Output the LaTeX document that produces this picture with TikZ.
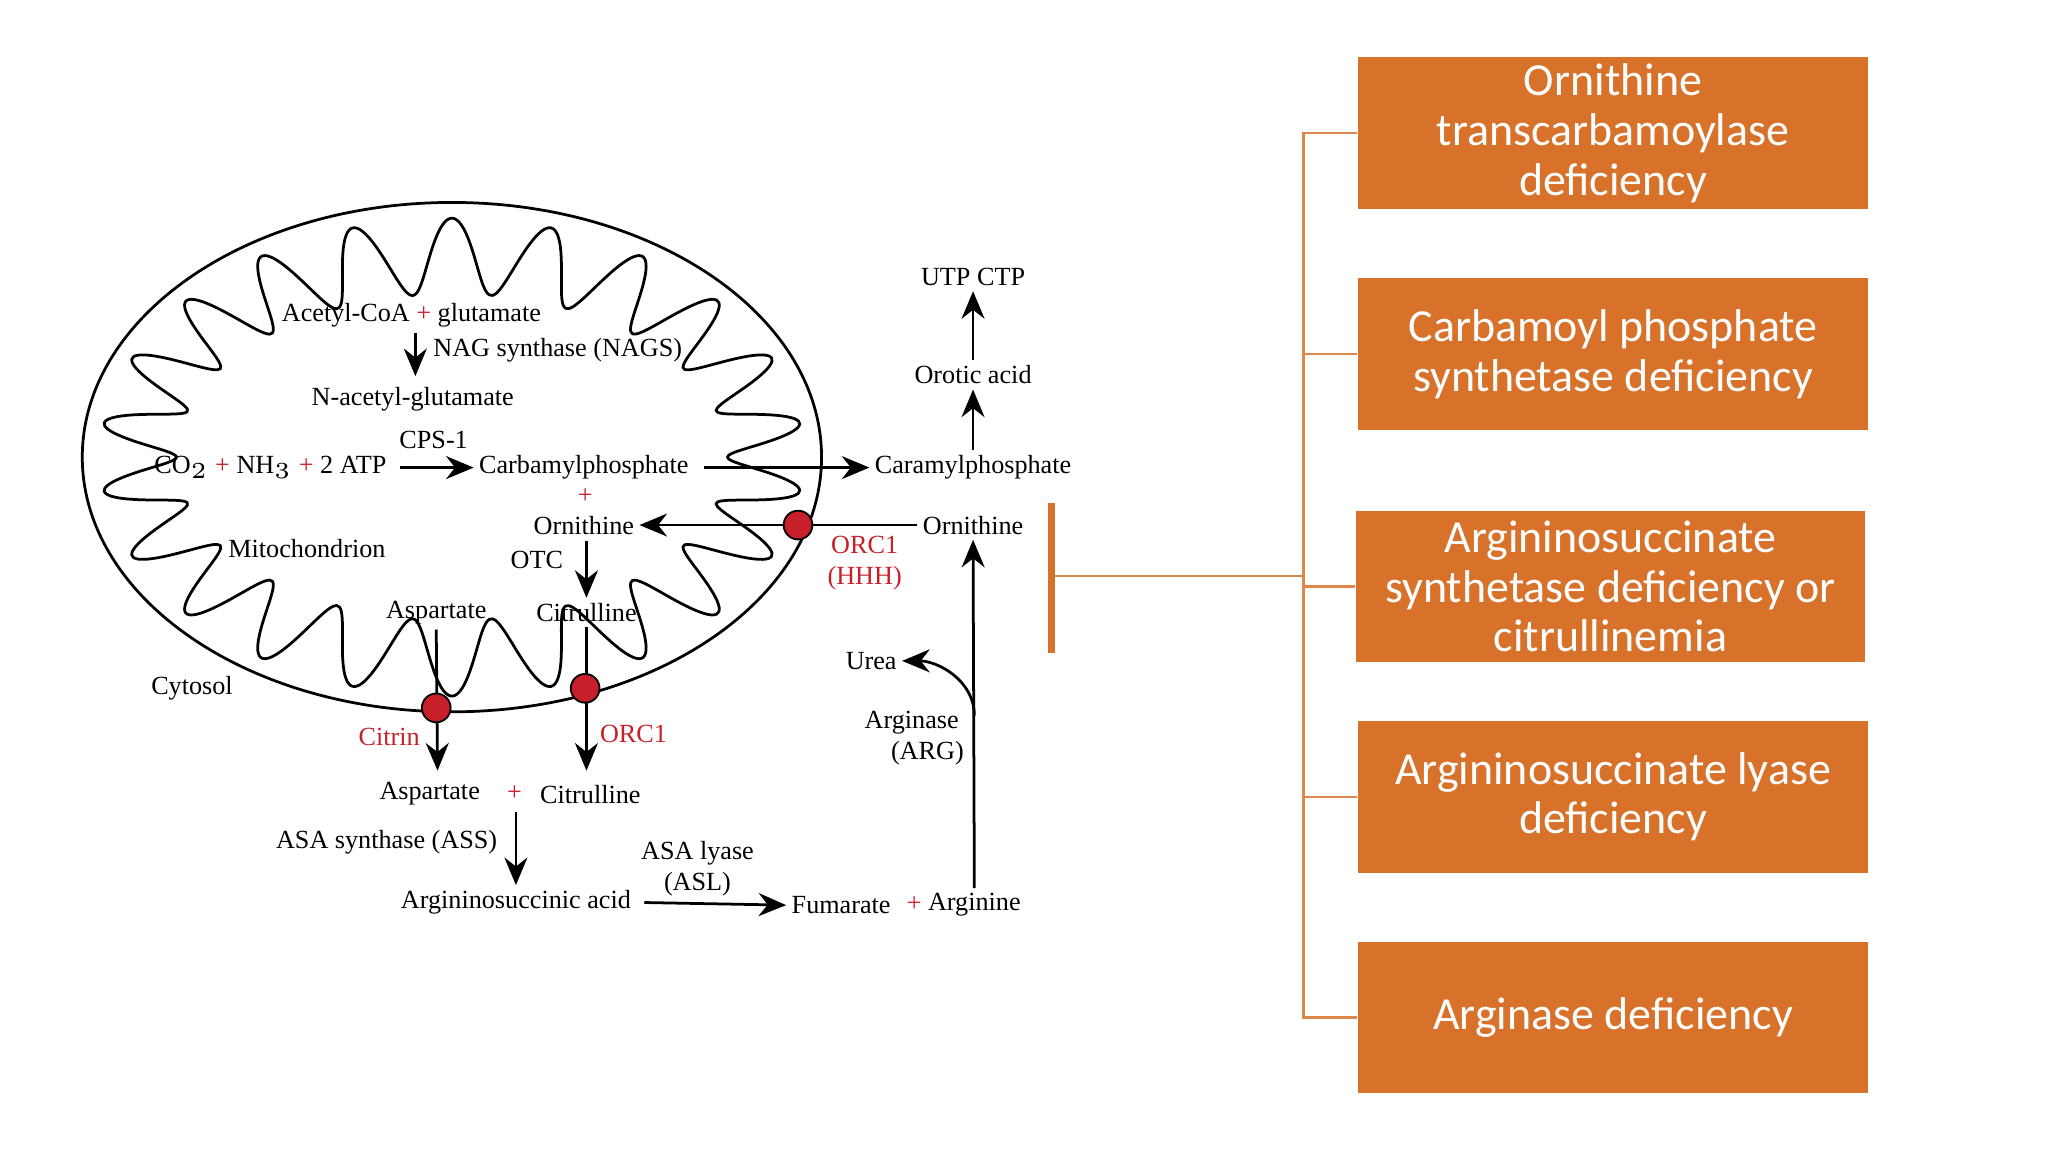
\documentclass[tikz,border=0pt]{standalone}
\usepackage{fontspec}
\setmainfont{Liberation Serif}
\newfontfamily\boxfont{Carlito}
\usetikzlibrary{arrows.meta}
\definecolor{boxorange}{HTML}{D8722B}
\definecolor{rd}{HTML}{C8202A}
\begin{document}
\begin{tikzpicture}[x=0.01cm,y=-0.01cm,
    lbl/.style={font=\fontsize{5.7}{6.8}\selectfont, inner sep=1pt, align=center},
    rlbl/.style={lbl, text=rd},
    flow/.style={-{Stealth[length=6pt,width=5pt]}, semithick},
    port/.style={circle, fill=rd, draw=black, thin, minimum size=0.22cm, inner sep=0pt},
    dbox/.style={fill=boxorange, text=white, minimum width=3.9cm, minimum height=1.16cm,
      font=\boxfont\fontsize{10}{10.8}\selectfont, align=center, inner sep=0pt},
    link/.style={boxorange!85, line width=0.5pt}
  ]
  \useasboundingbox (0,0) rectangle (1568,882);
  % mitochondrion
  \draw[semithick] (346,350) ellipse [x radius=283, y radius=195];
  \draw[semithick, smooth, samples=500, domain=0:360, variable=\t]
    plot ({346+(283-14-58*(0.5+0.5*cos(22*\t)))*cos(\t)},
          {350+(195-12-58*(0.5+0.5*cos(22*\t)))*sin(\t)}) -- cycle;
  % labels in the matrix
  \node[lbl] (acg) at (315,241) {Acetyl-CoA {\color{rd}+} glutamate};
  \node[lbl] (nagl) at (427,268) {NAG synthase (NAGS)};
  \node[lbl] (nag) at (316,306) {N-acetyl-glutamate};
  \node[lbl] (cps) at (332,337) {CPS-1};
  \node[lbl] (co2) at (207,358) {CO$_2$ {\color{rd}+} NH$_3$ {\color{rd}+} 2 ATP};
  \node[lbl] (cp) at (447,358) {Carbamylphosphate};
  \node[rlbl] (pl1) at (448,380) {+};
  \node[lbl] (orn) at (447,402) {Ornithine};
  \node[lbl] (otc) at (411,429) {OTC};
  \node[lbl] (mito) at (235,420) {Mitochondrion};
  \node[lbl] (asp) at (334,469) {Aspartate};
  \node[lbl] (cit) at (449,469) {Citrulline};
  \node[lbl] (cyto) at (147,527) {Cytosol};
  % cytosol side
  \node[lbl] (cp2) at (745,358) {Caramylphosphate};
  \node[lbl] (oro) at (745,287) {Orotic acid};
  \node[lbl] (utp) at (745,212) {UTP CTP};
  \node[lbl] (orn2) at (745,402) {Ornithine};
  \node[rlbl] (orc) at (662,431) {ORC1\\(HHH)};
  \node[rlbl] (citrin) at (298,564) {Citrin};
  \node[rlbl] (orc2) at (485,562) {ORC1};
  \node[lbl] (asp2) at (329,608) {Aspartate};
  \node[rlbl] (pl2) at (394,607) {+};
  \node[lbl] (cit2) at (452,608) {Citrulline};
  \node[lbl] (assl) at (296,645) {ASA synthase (ASS)};
  \node[lbl] (asa) at (395,691) {Argininosuccinic acid};
  \node[lbl] (asll) at (534,665) {ASA lyase\\(ASL)};
  \node[lbl] (fum) at (644,693) {Fumarate};
  \node[rlbl] (pl3) at (700,692) {+};
  \node[lbl] (arg) at (746,693) {Arginine};
  \node[lbl] (argl) at (698,565) {Arginase\\\hspace*{1.2em}(ARG)};
  \node[lbl] (urea) at (667,506) {Urea};
  \coordinate (nagtop) at (318,255);
  \coordinate (bend) at (746,548);
  % reactions
  \draw[flow] (nagtop) -- (318,288);
  \draw[flow] (co2.east) ++(6,0) coordinate (c1) -- (cp.west);
  \draw[flow] (cp.east) ++(8,0) -- (cp2.west);
  \draw[flow] (orn2.west) -- (orn.east);
  \draw[flow] (449,414) -- (cit.north);
  \draw[flow] (cp2.north) -- (oro.south);
  \draw[flow] (oro.north) -- (utp.south);
  \draw[flow] (asp.south) -- (335,590);
  \draw[flow] (cit.south) -- (449,590);
  \draw[flow] (395,622) -- (asa.north);
  \draw[flow] (asa.east) ++(6,0) -- (fum.west);
  \draw[flow] (arg.north) -- (orn2.south);
  \draw[flow] (bend) to[out=90, in=0] (urea.east);
  % transporters
  \node[port] (t1) at (611,402) {};
  \node[port] (t2) at (334,542) {};
  \node[port] (t3) at (448,527) {};
  % disorders
  \node[dbox] (b1) at (1235,102) {Ornithine\\transcarbamoylase\\deficiency};
  \node[dbox] (b2) at (1235,271) {Carbamoyl phosphate\\synthetase deficiency};
  \node[dbox] (b3) at (1233,449) {Argininosuccinate\\synthetase deficiency or\\citrullinemia};
  \node[dbox] (b4) at (1235,610) {Argininosuccinate lyase\\deficiency};
  \node[dbox] (b5) at (1235,779) {Arginase deficiency};
  \coordinate (bar1) at (805,385);
  \coordinate (bar2) at (805,500);
  \coordinate (jn) at (998,441);
  \draw[boxorange, line width=1.5pt] (bar1) -- (bar2);
  \draw[link] (808,441) -- (jn);
  \draw[link] (b1.west) -- (998,102) -- (998,779) -- (b5.west);
  \draw[link] (998,271) -- (b2.west);
  \draw[link] (998,449) -- (b3.west);
  \draw[link] (998,610) -- (b4.west);
\end{tikzpicture}
\end{document}
